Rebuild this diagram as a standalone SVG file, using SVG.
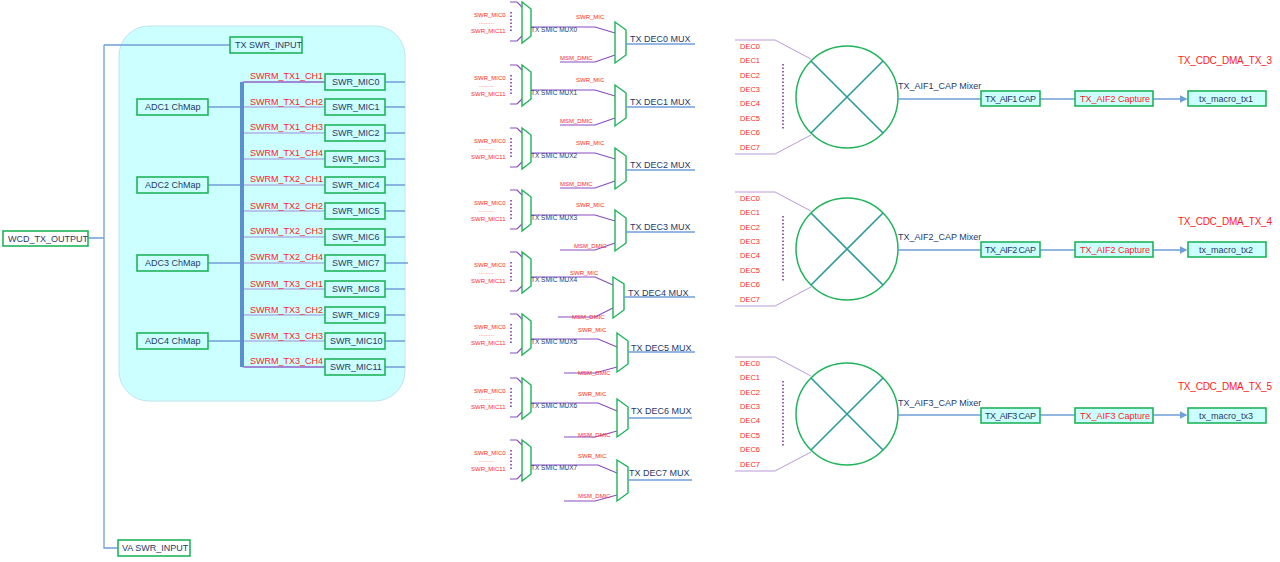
<svg xmlns="http://www.w3.org/2000/svg" width="1280" height="562" viewBox="0 0 1280 562">
<style>
text{font-family:"Liberation Sans",Arial,sans-serif}
.bx{fill:#fff;stroke:#1fb45a;stroke-width:1.6}
.pbx{fill:#ccffff;stroke:#1fb45a;stroke-width:1.6}
.t{font-size:9px;fill:#1f3a6a}
.r{font-size:9px;fill:#ff1a1a}
.rs{font-size:6px;fill:#ff2a2a}
.ts{font-size:6.5px;fill:#1f3a6a}
.bl{stroke:#6f9fd8;stroke-width:1.3;fill:none}
.pu{stroke:#8a4cc0;stroke-width:1.2;fill:none}
.lp{stroke:#b99bd8;stroke-width:1;fill:none}
.mx{fill:#fff;stroke:#1fb45a;stroke-width:1.4}
.dot{stroke:#7a2aa0;stroke-width:1.5;stroke-dasharray:1.5 2;fill:none}
.ci{fill:#fff;stroke:#1fb45a;stroke-width:1.5}
.xl{stroke:#2a9a9a;stroke-width:1.6}
</style>
<defs><marker id="ar" markerWidth="6" markerHeight="6" refX="5" refY="3" orient="auto"><path d="M0,0L6,3L0,6z" fill="#6f9fd8"/></marker>
<g id="smux">
<path class="pu" d="M-12,0H-5L1,6M-12,39H-5L1,33"/>
<path class="dot" d="M-11,10V31"/>
<text class="rs" x="-48" y="15">SWR_MIC0</text>
<text class="rs" x="-43" y="22">.........</text>
<text class="rs" x="-51" y="31">SWR_MIC11</text>
<path class="mx" d="M0,0L9,7V34L0,41z"/>
</g>
<g id="mixer">
<path class="lp" d="M-112,-57H-72L-36,-38M-112,57H-72L-36,38"/>
<path class="dot" d="M-64,-33V33"/>
<circle class="ci" r="51"/>
<path class="xl" d="M-36,-36L36,36M36,-36L-36,36"/>
<g class="rs" style="font-size:7.5px">
<text x="-107" y="-48">DEC0</text><text x="-107" y="-34">DEC1</text><text x="-107" y="-19">DEC2</text><text x="-107" y="-5">DEC3</text><text x="-107" y="9">DEC4</text><text x="-107" y="24">DEC5</text><text x="-107" y="38">DEC6</text><text x="-107" y="53">DEC7</text></g>
</g>
</defs>
<g id="panel"><rect x="119" y="26" width="286" height="375" rx="30" fill="#ccffff" stroke="#bfe4ea"/></g>
<g id="connectors">
<path class="bl" d="M88,238H104M104,45H230M104,45V548H118"/>
<g class="bl"><path d="M207,107H242M207,185H242M207,263H242M207,341H242"/>
<path d="M385,82H405M385,107H405M385,133H405M385,159H405M385,185H405M385,211H405M385,237H405M385,263H408M385,289H405M385,315H405M385,341H405M385,367H405"/></g>
<g class="lp" style="stroke:#a08bd8"><path d="M242,82H325M242,107H325M242,133H325M242,159H325M242,185H325M242,211H325M242,237H325M242,263H325M242,289H325M242,315H325M242,341H325M242,367H325"/></g>
<rect x="240" y="82" width="4" height="285" fill="#5b8fd0"/>
<path class="pu" d="M244,82H325M244,367H325"/>
</g>
<g id="left">
<rect class="bx" x="3" y="231" width="85" height="15"/><text class="t" x="8" y="242">WCD_TX_OUTPUT</text>
<rect class="pbx" x="230" y="37" width="72" height="16"/><text class="t" x="235" y="48">TX SWR_INPUT</text>
<rect class="bx" x="118" y="540" width="72" height="16"/><text class="t" x="122" y="551">VA SWR_INPUT</text>
<g id="adc">
<rect class="pbx" x="137" y="99" width="71" height="16"/><text class="t" x="145" y="110">ADC1 ChMap</text>
<rect class="pbx" x="137" y="177" width="71" height="16"/><text class="t" x="145" y="188">ADC2 ChMap</text>
<rect class="pbx" x="137" y="255" width="71" height="16"/><text class="t" x="145" y="266">ADC3 ChMap</text>
<rect class="pbx" x="137" y="333" width="71" height="16"/><text class="t" x="145" y="344">ADC4 ChMap</text>
</g>
<g id="swrm" class="r">
<text x="250" y="79">SWRM_TX1_CH1</text><text x="250" y="105">SWRM_TX1_CH2</text><text x="250" y="130">SWRM_TX1_CH3</text><text x="250" y="156">SWRM_TX1_CH4</text>
<text x="250" y="182">SWRM_TX2_CH1</text><text x="250" y="209">SWRM_TX2_CH2</text><text x="250" y="234">SWRM_TX2_CH3</text><text x="250" y="260">SWRM_TX2_CH4</text>
<text x="250" y="287">SWRM_TX3_CH1</text><text x="250" y="313">SWRM_TX3_CH2</text><text x="250" y="339">SWRM_TX3_CH3</text><text x="250" y="364">SWRM_TX3_CH4</text>
</g>
<g id="mics">
<rect class="pbx" x="325" y="74" width="60" height="16"/><text class="t" x="332" y="85">SWR_MIC0</text>
<rect class="pbx" x="325" y="99" width="60" height="16"/><text class="t" x="332" y="110">SWR_MIC1</text>
<rect class="pbx" x="325" y="125" width="60" height="16"/><text class="t" x="332" y="136">SWR_MIC2</text>
<rect class="pbx" x="325" y="151" width="60" height="16"/><text class="t" x="332" y="162">SWR_MIC3</text>
<rect class="pbx" x="325" y="177" width="60" height="16"/><text class="t" x="332" y="188">SWR_MIC4</text>
<rect class="pbx" x="325" y="203" width="60" height="16"/><text class="t" x="332" y="214">SWR_MIC5</text>
<rect class="pbx" x="325" y="229" width="60" height="16"/><text class="t" x="332" y="240">SWR_MIC6</text>
<rect class="pbx" x="325" y="255" width="60" height="16"/><text class="t" x="332" y="266">SWR_MIC7</text>
<rect class="pbx" x="325" y="281" width="60" height="16"/><text class="t" x="332" y="292">SWR_MIC8</text>
<rect class="pbx" x="325" y="307" width="60" height="16"/><text class="t" x="332" y="318">SWR_MIC9</text>
<rect class="pbx" x="325" y="333" width="60" height="16"/><text class="t" x="330" y="344">SWR_MIC10</text>
<rect class="pbx" x="325" y="359" width="60" height="16"/><text class="t" x="330" y="370">SWR_MIC11</text>
</g>
</g>
<g id="muxes">
<g transform="translate(522,2)"><use href="#smux"/><path class="pu" d="M9,25H73L93,31M38,60H73L93,53"/><text class="rs" x="54" y="17">SWR_MIC</text><text class="rs" x="38" y="58">MSM_DMIC</text><text class="ts" x="9" y="30">TX SMIC MUX0</text><path class="mx" d="M93,20L104,28V53L93,61z"/><path class="bl" d="M104,42H173"/><text class="t" x="108" y="40">TX DEC0 MUX</text></g>
<g transform="translate(522,65)"><use href="#smux"/><path class="pu" d="M9,25H73L93,31M38,60H73L93,53"/><text class="rs" x="54" y="17">SWR_MIC</text><text class="rs" x="38" y="58">MSM_DMIC</text><text class="ts" x="9" y="30">TX SMIC MUX1</text><path class="mx" d="M93,20L104,28V53L93,61z"/><path class="bl" d="M104,42H173"/><text class="t" x="108" y="40">TX DEC1 MUX</text></g>
<g transform="translate(522,128)"><use href="#smux"/><path class="pu" d="M9,25H73L93,31M38,60H73L93,53"/><text class="rs" x="54" y="17">SWR_MIC</text><text class="rs" x="38" y="58">MSM_DMIC</text><text class="ts" x="9" y="30">TX SMIC MUX2</text><path class="mx" d="M93,20L104,28V53L93,61z"/><path class="bl" d="M104,42H173"/><text class="t" x="108" y="40">TX DEC2 MUX</text></g>
<g transform="translate(522,190)"><use href="#smux"/><path class="pu" d="M9,25H73L93,31M38,60H73L93,53"/><text class="rs" x="54" y="17">SWR_MIC</text><text class="rs" x="52" y="58">MSM_DMIC</text><text class="ts" x="9" y="30">TX SMIC MUX3</text><path class="mx" d="M93,20L104,28V53L93,61z"/><path class="bl" d="M104,42H173"/><text class="t" x="108" y="40">TX DEC3 MUX</text></g>
<g transform="translate(522,252)"><use href="#smux"/><path class="pu" d="M9,25H73L91,33M36,65H73L91,56"/><text class="rs" x="48" y="23">SWR_MIC</text><text class="rs" x="50" y="67">MSM_DMIC</text><text class="ts" x="9" y="30">TX SMIC MUX4</text><path class="mx" d="M91,25L102,32V58L91,66z"/><path class="bl" d="M102,45H173"/><text class="t" x="106" y="44">TX DEC4 MUX</text></g>
<g transform="translate(522,314)"><use href="#smux"/><path class="pu" d="M9,25H76L95,33M42,59H73L95,53"/><text class="rs" x="56" y="18">SWR_MIC</text><text class="rs" x="56" y="61">MSM_DMIC</text><text class="ts" x="9" y="30">TX SMIC MUX5</text><path class="mx" d="M95,19L106,27V50L95,58z"/><path class="bl" d="M106,38H173"/><text class="t" x="109" y="37">TX DEC5 MUX</text></g>
<g transform="translate(522,378)"><use href="#smux"/><path class="pu" d="M9,25H76L95,33M42,59H73L95,53"/><text class="rs" x="56" y="18">SWR_MIC</text><text class="rs" x="56" y="59">MSM_DMIC</text><text class="ts" x="9" y="30">TX SMIC MUX6</text><path class="mx" d="M95,21L106,29V51L95,59z"/><path class="bl" d="M106,40H170"/><text class="t" x="109" y="36">TX DEC6 MUX</text></g>
<g transform="translate(522,440)"><use href="#smux"/><path class="pu" d="M9,25H76L95,33M42,61H73L95,55"/><text class="rs" x="56" y="18">SWR_MIC</text><text class="rs" x="56" y="58">MSM_DMIC</text><text class="ts" x="9" y="30">TX SMIC MUX7</text><path class="mx" d="M95,20L106,27V53L95,61z"/><path class="bl" d="M106,40H170"/><text class="t" x="107" y="36">TX DEC7 MUX</text></g>
</g>
<g id="mix1">
<use href="#mixer" transform="translate(847,97)"/>
<path class="bl" d="M898,99H981M1040,99H1075M1153,99H1186" marker-end="url(#ar)"/>
<text class="t" x="898" y="89">TX_AIF1_CAP Mixer</text>
<rect class="pbx" x="981" y="91" width="59" height="15"/><text class="t" x="985" y="102" textLength="51">TX_AIF1 CAP</text>
<rect class="pbx" x="1075" y="91" width="78" height="15"/><text class="r" x="1080" y="102">TX_AIF2 Capture</text>
<rect class="pbx" x="1188" y="91" width="78" height="15"/><text class="t" x="1199" y="102">tx_macro_tx1</text>
<text class="r" x="1178" y="64" style="font-size:10px" textLength="94">TX_CDC_DMA_TX_3</text>
</g>
<g id="mix2">
<use href="#mixer" transform="translate(847,249)"/>
<path class="bl" d="M898,250H981M1040,250H1075M1153,250H1186" marker-end="url(#ar)"/>
<text class="t" x="898" y="240">TX_AIF2_CAP Mixer</text>
<rect class="pbx" x="981" y="242" width="59" height="15"/><text class="t" x="985" y="253" textLength="51">TX_AIF2 CAP</text>
<rect class="pbx" x="1075" y="242" width="78" height="15"/><text class="r" x="1080" y="253">TX_AIF2 Capture</text>
<rect class="pbx" x="1188" y="242" width="78" height="15"/><text class="t" x="1199" y="253">tx_macro_tx2</text>
<text class="r" x="1178" y="225" style="font-size:10px" textLength="94">TX_CDC_DMA_TX_4</text>
</g>
<g id="mix3">
<use href="#mixer" transform="translate(847,414)"/>
<path class="bl" d="M898,415H981M1040,415H1075M1153,415H1186" marker-end="url(#ar)"/>
<text class="t" x="898" y="406">TX_AIF3_CAP Mixer</text>
<rect class="pbx" x="981" y="408" width="59" height="15"/><text class="t" x="985" y="419" textLength="51">TX_AIF3 CAP</text>
<rect class="pbx" x="1075" y="408" width="78" height="15"/><text class="r" x="1080" y="419">TX_AIF3 Capture</text>
<rect class="pbx" x="1188" y="408" width="78" height="15"/><text class="t" x="1199" y="419">tx_macro_tx3</text>
<text class="r" x="1178" y="390" style="font-size:10px" textLength="94">TX_CDC_DMA_TX_5</text>
</g>
</svg>
